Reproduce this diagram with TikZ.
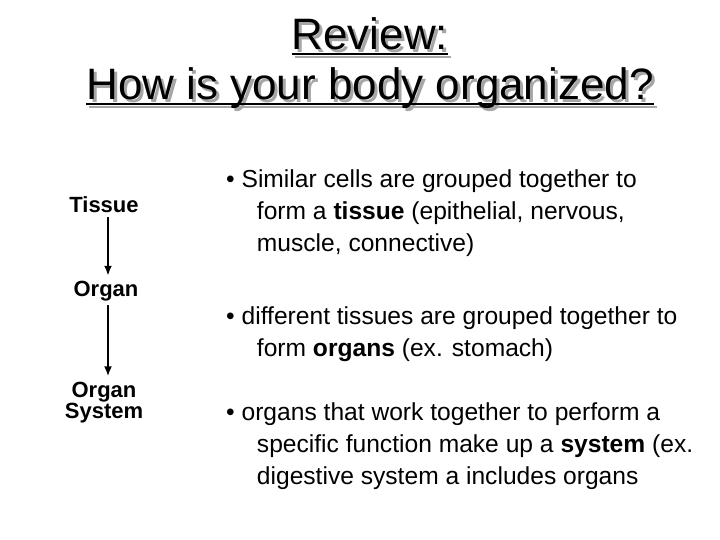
\documentclass[tikz,border=0pt]{standalone}
\usepackage{fontspec}
\setmainfont{Liberation Sans}
\usetikzlibrary{arrows.meta}
\begin{document}
\begin{tikzpicture}[x=1pt,y=-1pt,
  ttl/.style={font=\fontsize{44}{46}\selectfont,inner sep=0pt,anchor=base},
  lab/.style={font=\bfseries\fontsize{22}{21}\selectfont,align=center,inner sep=0pt},
  body/.style={font=\fontsize{24.6}{32}\selectfont,anchor=north west,inner sep=0pt,align=left},
  arr/.style={-{Latex[length=10pt,width=8pt]},line width=2.4pt}]
\useasboundingbox (0,0) rectangle (720,540);
\foreach \t/\y [count=\i] in {Review:/50, How is your body organized?/100}{
  \node[ttl,text=gray!70] (s\i) at (373,\y+3) {\t};
  \draw[gray!70,line width=2.4pt] ([yshift=-4pt]s\i.base west) -- ([yshift=-4pt]s\i.base east);
  \node[ttl] (t\i) at (370,\y) {\t};
  \draw[line width=2.2pt] ([yshift=-4pt]t\i.base west) -- ([yshift=-4pt]t\i.base east);
}
\node[lab] (tis) at (104,205) {Tissue};
\node[lab] (org) at (106,291) {Organ};
\node[lab] (sys) at (104,403) {Organ\\System};
\draw[arr] ([xshift=4pt,yshift=-4pt]tis.south) -- ([xshift=2pt,yshift=5pt]org.north);
\draw[arr] ([xshift=2pt,yshift=-4pt]org.south) -- ([xshift=4pt,yshift=6pt]sys.north);
\node[body] (b1) at (226,169) {• Similar cells are grouped together to\\\hspace{1.25em}form a \textbf{tissue} (epithelial, nervous,\\\hspace{1.25em}muscle, connective)};
\node[body] (b2) at (226,306) {• different tissues are grouped together to\\\hspace{1.25em}form \textbf{organs} (ex. stomach)};
\node[body] (b3) at (226,402) {• organs that work together to perform a\\\hspace{1.25em}specific function make up a \textbf{system} (ex.\\\hspace{1.25em}digestive system a includes organs};
\end{tikzpicture}
\end{document}
